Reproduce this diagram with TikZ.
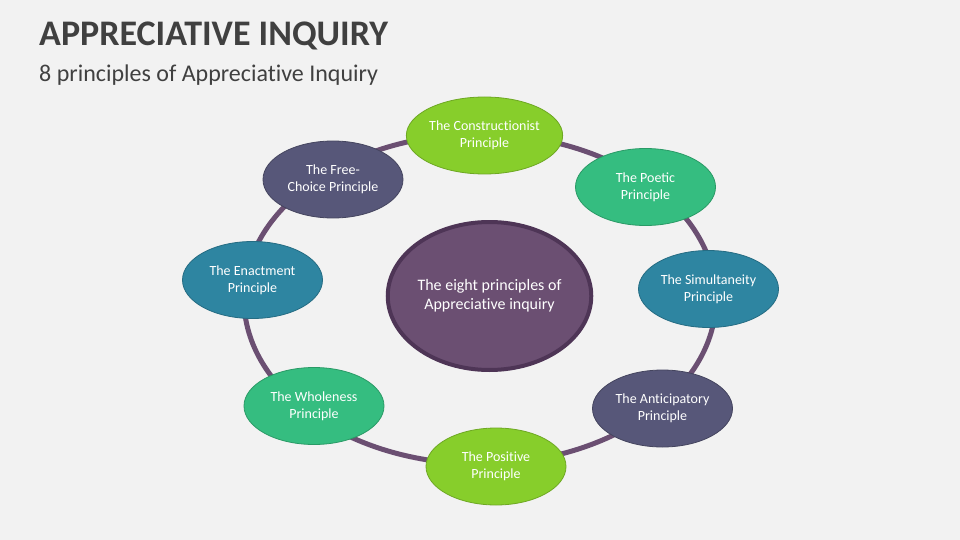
\documentclass[tikz,border=0pt]{standalone}
\usepackage{fontspec}
\setmainfont{Carlito}
\usetikzlibrary{shapes.geometric}
\newcommand\nti{t\kern0pt i}
\definecolor{bg}{HTML}{F2F2F2}
\definecolor{titlec}{HTML}{404040}
\definecolor{lime}{HTML}{87CE2B}
\definecolor{limeb}{HTML}{6EA823}
\definecolor{mint}{HTML}{35BD80}
\definecolor{mintb}{HTML}{2A9A66}
\definecolor{teal}{HTML}{2E85A1}
\definecolor{tealb}{HTML}{256C83}
\definecolor{slate}{HTML}{575779}
\definecolor{slateb}{HTML}{45455F}
\definecolor{plum}{HTML}{6B4F72}
\definecolor{plumb}{HTML}{4E3556}
\tikzset{
  pr/.style={ellipse, minimum width=140pt, minimum height=77pt, inner sep=0pt,
    text=white, align=center, font=\fontsize{14}{17}\selectfont, line width=0.8pt},
  plime/.style={pr, fill=lime, draw=limeb},
  pmint/.style={pr, fill=mint, draw=mintb},
  pteal/.style={pr, fill=teal, draw=tealb},
  pslate/.style={pr, fill=slate, draw=slateb},
  hub/.style={ellipse, minimum width=197pt, minimum height=148pt, inner sep=0pt,
    fill=plum, draw=plumb, line width=4pt, text=white, align=center,
    font=\fontsize{16}{19}\selectfont},
  ring/.style={draw=plum, line width=5pt},
}
\begin{document}
\begin{tikzpicture}[x=1pt,y=-1pt]
\fill[bg] (0,0) rectangle (960,540);
\useasboundingbox (0,0) rectangle (960,540);
\node[anchor=base west, text=titlec, inner sep=0pt, font=\fontsize{36}{40}\selectfont\bfseries] (title) at (39,46) {APPRECIATIVE INQUIRY};
\node[anchor=base west, text=titlec, inner sep=0pt, font=\fontsize{24}{28}\selectfont] (subtitle) at (39,82) {8 principles of Apprecia\nti ve Inquiry};
\coordinate (ringc) at (480,299);
\draw[ring] (ringc) ellipse [x radius=236, y radius=165];
\node[hub] (hub) at (489.5,296) {The eight principles of\\Apprecia\nti ve inquiry};
\node[plime] (constr) at (484.5,135.5) {The Construc\nti onist\\Principle};
\node[pmint] (poetic) at (645.5,187) {The Poetic\\Principle};
\node[pteal] (simul) at (708.5,289) {The Simultaneity\\Principle};
\node[pslate] (antic) at (662.5,408.5) {The An\nti cipatory\\Principle};
\node[plime] (posit) at (496,466.5) {The Posi\nti ve\\Principle};
\node[pmint] (whole) at (314,406) {The Wholeness\\Principle};
\node[pteal] (enact) at (252.5,280) {The Enactment\\Principle};
\node[pslate] (free) at (333,179.5) {The Free-\\Choice Principle};
\end{tikzpicture}
\end{document}
